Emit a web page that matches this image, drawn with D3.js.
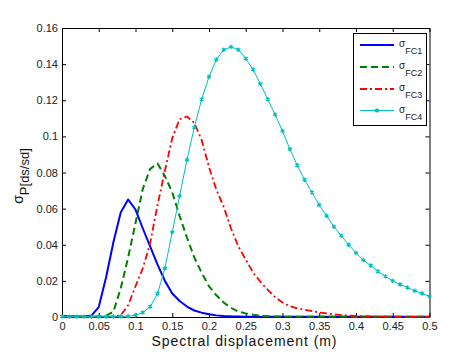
<!DOCTYPE html>
<html>
<head>
<meta charset="utf-8">
<script src="https://cdn.jsdelivr.net/npm/d3@7"></script>
<style>
  html, body { margin: 0; padding: 0; background: #fff; }
  svg { display: block; font-family: "Liberation Sans", Arial, Helvetica, sans-serif; }
</style>
</head>
<body>
<svg id="chart" width="474" height="355"></svg>
<script>
// ---- data ----
const xValues = [0.00,0.01,0.02,0.03,0.04,0.05,0.06,0.07,0.08,0.09,
                 0.10,0.11,0.12,0.13,0.14,0.15,0.16,0.17,0.18,0.19,
                 0.20,0.21,0.22,0.23,0.24,0.25,0.26,0.27,0.28,0.29,
                 0.30,0.31,0.32,0.33,0.34,0.35,0.36,0.37,0.38,0.39,
                 0.40,0.41,0.42,0.43,0.44,0.45,0.46,0.47,0.48,0.49,0.50];

const fc1 = [0.0005,0.0004,0.0003,0.0003,0.0008,0.0055,0.022,0.0415,0.058,0.065,
             0.0595,0.049,0.039,0.029,0.020,0.013,0.0089,0.0058,0.0036,0.0024,
             0.0015,0.0009,0.0006,0.0004,0.0003,0.0002,0.0001,0.0001,0.0001,0.0001,
             0.0001,0.0001,0.0001,0.0001,0.0001,0.0001,0.0001,0.0001,0.0001,0.0001,
             0.0001,0.0001,0.0001,0.0001,0.0001,0.0001,0.0001,0.0001,0.0001,0.0001,0.0001];

const fc2 = [0.0001,0.0001,0.0001,0.0002,0.0002,0.0003,0.0006,0.003,0.016,0.033,
             0.052,0.071,0.082,0.085,0.078,0.069,0.056,0.044,0.033,0.0245,
             0.017,0.012,0.008,0.005,0.003,0.002,0.0012,0.0007,0.0004,0.0003,
             0.0002,0.0001,0.0001,0.0001,0.0001,0.0001,0.0001,0.0001,0.0001,0.0001,
             0.0001,0.0001,0.0001,0.0001,0.0001,0.0001,0.0001,0.0001,0.0001,0.0001,0.0001];

const fc3 = [0.0002,0.0002,0.0002,0.0002,0.0002,0.0002,0.0002,0.0003,0.001,0.0065,
             0.017,0.027,0.041,0.062,0.081,0.099,0.1095,0.111,0.1075,0.098,
             0.083,0.0705,0.061,0.049,0.039,0.0318,0.0246,0.0195,0.015,0.011,
             0.008,0.006,0.0048,0.004,0.0033,0.0025,0.002,0.0015,0.001,0.0008,
             0.0006,0.0004,0.0003,0.0002,0.0002,0.0001,0.0001,0.0001,0.0001,0.0001,0.0001];

const fc4 = [0.0003,0.0002,0.0002,0.0002,0.0002,0.0002,0.0002,0.0002,0.0003,0.0004,
             0.001,0.0025,0.0057,0.013,0.027,0.047,0.067,0.087,0.105,0.1205,
             0.133,0.1425,0.148,0.1495,0.148,0.143,0.137,0.129,0.1205,0.112,
             0.103,0.093,0.084,0.076,0.069,0.062,0.056,0.050,0.045,0.040,
             0.0355,0.0315,0.0285,0.0253,0.0225,0.020,0.018,0.0163,0.0145,0.013,0.0115];

const seriesNames = ["FC1","FC2","FC3","FC4"];
const xTicks = [0,0.05,0.1,0.15,0.2,0.25,0.3,0.35,0.4,0.45,0.5];
const yTicks = [0,0.02,0.04,0.06,0.08,0.1,0.12,0.14,0.16];
const xLabel = "Spectral displacement (m)";
const yLabelMain = "σ";
const yLabelSub = "P[ds/sd]";

// ---- layout ----
const W = 474, H = 355;
const pL = 62, pR = 429.5, pT = 28, pB = 317;
const svg = d3.select("#chart");
svg.append("rect").attr("width", W).attr("height", H).attr("fill", "#fff");

const x = d3.scaleLinear().domain([0, 0.5]).range([pL, pR]);
const y = d3.scaleLinear().domain([0, 0.16]).range([pB, pT]);

const fmt = d => d === 0 ? "0" : String(+d.toFixed(2));

function styleAxis(g) {
  g.selectAll("path.domain").attr("stroke", "#000").attr("stroke-width", 1);
  g.selectAll(".tick line").attr("stroke", "#000").attr("stroke-width", 1);
  g.selectAll(".tick text").attr("fill", "#222")
    .style("font-family", '"Liberation Sans", Arial, sans-serif').style("font-size", "11px");
}

const gx = svg.append("g").attr("transform", `translate(0,${pB})`)
  .call(d3.axisBottom(x).tickValues(xTicks).tickFormat(fmt).tickSizeInner(-4).tickSizeOuter(0).tickPadding(5));
styleAxis(gx);
const gxt = svg.append("g").attr("transform", `translate(0,${pT})`)
  .call(d3.axisTop(x).tickValues(xTicks).tickFormat("").tickSizeInner(-4).tickSizeOuter(0));
styleAxis(gxt);
const gy = svg.append("g").attr("transform", `translate(${pL},0)`)
  .call(d3.axisLeft(y).tickValues(yTicks).tickFormat(fmt).tickSizeInner(-4).tickSizeOuter(0).tickPadding(4));
styleAxis(gy);
const gyr = svg.append("g").attr("transform", `translate(${pR},0)`)
  .call(d3.axisRight(y).tickValues(yTicks).tickFormat("").tickSizeInner(-4).tickSizeOuter(0));
styleAxis(gyr);

// ---- series ----
const colors = ["#0000ff", "#008000", "#ff0000", "#00bfbf"];
const dashes = [null, "7,4", "7,3,2,3", null];
const widths = [2, 2, 1.8, 1];
const allSeries = [fc1, fc2, fc3, fc4];

const line = d3.line().x((d, i) => x(xValues[i])).y(d => y(d));

allSeries.forEach((s, k) => {
  svg.append("path").datum(s)
    .attr("d", line)
    .attr("fill", "none")
    .attr("stroke", colors[k])
    .attr("stroke-width", widths[k])
    .attr("stroke-linejoin", "round")
    .attr("stroke-dasharray", dashes[k]);
});

// cyan markers
const marker = d3.symbol().type(d3.symbolAsterisk).size(14);
svg.append("g").selectAll("path").data(fc4).join("path")
  .attr("transform", (d, i) => `translate(${x(xValues[i])},${y(d)})`)
  .attr("d", marker)
  .attr("fill", "none")
  .attr("stroke", colors[3])
  .attr("stroke-width", 1.2);

// ---- legend ----
const lg = svg.append("g");
lg.append("rect").attr("x", 353.5).attr("y", 33.5).attr("width", 73).attr("height", 92)
  .attr("fill", "#fff").attr("stroke", "#000").attr("stroke-width", 1);
const rowY = [45, 67, 89, 110.5];
seriesNames.forEach((name, k) => {
  lg.append("line").attr("x1", 360).attr("x2", 394).attr("y1", rowY[k]).attr("y2", rowY[k])
    .attr("stroke", colors[k]).attr("stroke-width", widths[k])
    .attr("stroke-dasharray", dashes[k]);
  if (k === 3) {
    lg.append("path").attr("transform", `translate(377,${rowY[k]})`).attr("d", marker)
      .attr("fill", "none").attr("stroke", colors[k]).attr("stroke-width", 1.2);
  }
  const t = lg.append("text").attr("x", 399).attr("y", rowY[k] + 2)
    .attr("fill", "#222").style("font-size", "10px");
  t.append("tspan").text("σ");
  t.append("tspan").attr("dy", 7).style("font-size", "9px").text(name);
});

// ---- axis labels ----
svg.append("text").attr("x", 244).attr("y", 346)
  .attr("text-anchor", "middle").attr("fill", "#111")
  .attr("textLength", 185).attr("lengthAdjust", "spacing")
  .style("font-size", "14px").text(xLabel);

const yl = svg.append("text").attr("transform", "translate(23,176) rotate(-90)")
  .attr("text-anchor", "middle").attr("fill", "#111").style("font-size", "14px");
yl.append("tspan").text(yLabelMain);
yl.append("tspan").attr("dy", 6).style("font-size", "13px").text(yLabelSub);
</script>
</body>
</html>
